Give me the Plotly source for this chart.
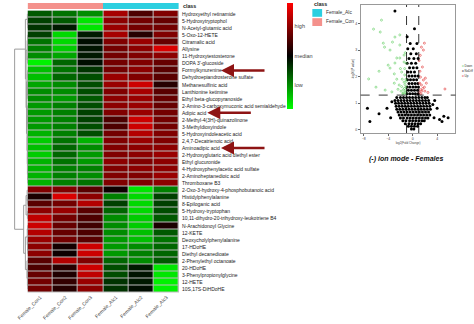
import plotly.graph_objects as go

W, H = 474, 324

# ---------------- data ----------------
samples = ["Female_Con1", "Female_Con2", "Female_Con3",
           "Female_Alc1", "Female_Alc2", "Female_Alc3"]
class_codes = [0, 0, 0, 1, 1, 1]
class_names = ["Female_Alc", "Female_Con"]

metabolites = [
    "Hydroxyethyl retinamide", "5-Hydroxytryptophol", "N-Acetyl-glutamic acid",
    "5-Oxo-12-HETE", "Citramalic acid", "Allysine", "11-Hydroxytestosterone",
    "DOPA 3'-glucoside", "Formylkynurenine", "Dehydroepiandrosterone sulfate",
    "Methanesulfinic acid", "Lanthionine ketimine", "Ethyl beta-glucopyranoside",
    "2-Amino-3-carboxymuconic acid semialdehyde", "Adipic acid",
    "2-Methyl-4(3H)-quinazolinone", "3-Methyldioxyindole",
    "5-Hydroxyindoleacetic acid", "2,4,7-Decatrienoic acid", "Aminoadipic acid",
    "2-Hydroxyglutaric acid diethyl ester", "Ethyl glucuronide",
    "4-Hydroxyphenylacetic acid sulfate", "2-Aminoheptanedioic acid",
    "Thromboxane B3", "2-Oxo-3-hydroxy-4-phosphobutanoic acid",
    "Histidylphenylalanine", "8-Epiloganic acid", "5-Hydroxy-tryptophan",
    "10,11-dihydro-20-trihydroxy-leukotriene B4", "N-Arachidonoyl Glycine",
    "12-KETE", "Deoxycholylphenylalanine", "17-HDoHE", "Diethyl decanedioate",
    "2-Phenylethyl octanoate", "20-HDoHE", "3-Phenylpropionylglycine",
    "12-HETE", "10S,17S-DiHDoHE",
]

z_scaled = [
    [-0.35, -0.45, -0.55, 0.65, 0.30, 0.50],
    [-0.25, -0.35, -0.90, 0.55, 0.45, 0.40],
    [-0.20, -0.10, -0.90, 0.60, 0.45, 0.45],
    [-0.25, -0.85, -0.10, 0.65, 0.15, 0.50],
    [-0.45, -0.85, -0.05, 0.50, 0.60, 0.40],
    [-0.50, -0.80, -0.08, 0.45, 0.55, 0.85],
    [-0.55, -0.65, -0.10, 0.45, 0.50, 0.55],
    [-0.95, -0.40, -0.05, 0.45, 0.50, 0.40],
    [-0.75, -0.45, -0.20, 0.45, 0.55, 0.35],
    [-0.75, -0.40, -0.30, 0.60, 0.50, 0.35],
    [-0.65, -0.55, -0.30, 0.60, 0.80, 0.15],
    [-0.55, -0.55, -0.30, 0.50, 0.65, 0.35],
    [-0.55, -0.60, -0.35, 0.55, 0.60, 0.40],
    [-0.60, -0.50, -0.30, 0.55, 0.60, 0.40],
    [-0.60, -0.50, -0.25, 0.50, 0.60, 0.45],
    [-0.60, -0.50, -0.25, 0.30, 0.80, 0.45],
    [-0.60, -0.50, -0.30, 0.30, 0.80, 0.45],
    [-0.70, -0.50, -0.30, 0.45, 0.70, 0.50],
    [-0.80, -0.45, -0.70, 0.50, 0.60, 0.50],
    [-0.75, -0.40, -0.55, 0.50, 0.55, 0.55],
    [-0.80, -0.40, -0.60, 0.50, 0.55, 0.60],
    [-0.70, -0.45, -0.60, 0.55, 0.50, 0.55],
    [-0.70, -0.50, -0.50, 0.50, 0.55, 0.55],
    [-0.70, -0.50, -0.55, 0.50, 0.50, 0.60],
    [-0.70, -0.50, -0.45, 0.50, 0.50, 0.55],
    [0.50, 0.50, 0.35, 0.05, -0.90, -0.50],
    [0.10, 0.85, 0.55, -0.50, -0.85, -0.25],
    [0.35, 0.45, 0.70, -0.25, -0.85, -0.25],
    [0.55, 0.60, 0.35, -0.40, -0.85, -0.30],
    [0.75, 0.45, 0.30, -0.55, -0.80, -0.35],
    [0.80, 0.40, 0.25, -0.55, -0.80, 0.10],
    [0.70, 0.40, 0.30, -0.55, -0.75, -0.35],
    [0.60, 0.45, 0.35, -0.60, -0.75, -0.45],
    [0.55, 0.08, 0.80, -0.60, -0.55, -0.40],
    [0.55, 0.05, 0.80, -0.60, -0.50, -0.40],
    [0.35, 0.70, 0.50, -0.40, -0.55, -0.35],
    [0.30, 0.15, 0.80, -0.30, -0.10, -0.90],
    [0.40, 0.12, 0.75, -0.30, -0.08, -0.90],
    [0.45, 0.20, 0.60, -0.20, -0.10, -0.95],
    [0.45, 0.15, 0.55, -0.20, -0.05, -0.95],
]

highlighted = ["Formylkynurenine", "Adipic acid", "Aminoadipic acid"]
colorbar_labels = ["high", "median", "low"]
colorbar_levels = [0.57, 0.0, -0.55]

# row dendrogram: [height, left, right]; leaves are row indices
dendro_tree = [1.0,
    [0.20,
        [0.05, 0, [0.03, 1, 2]],
        [0.15,
            [0.07, [0.04, 3, [0.02, 4, 5]], [0.03, 6, 7]],
            [0.12,
                [0.06, [0.03, 8, 9], [0.04, 10, [0.02, 11, 12]]],
                [0.08,
                    [0.05, [0.03, 13, 14], [0.02, 15, 16]],
                    [0.06, [0.04, 17, 18],
                        [0.05, [0.03, 19, [0.02, 20, 21]],
                               [0.03, 22, [0.02, 23, 24]]]]]]]],
    [0.33,
        [0.15, [0.07, 25, [0.04, 26, 27]], [0.05, 28, 29]],
        [0.20,
            [0.06, [0.03, 30, 31], [0.04, 32, [0.02, 33, 34]]],
            [0.08, 35, [0.05, [0.02, 36, 37], [0.03, 38, 39]]]]]]

# volcano plot (log2 fold change, -log10 p)
down_fc = [-7.2, -6.4, -5.3, -5.1, -4.8, -4.6, -3.7, -2.9, -2.1, -2.1, -4.0, -3.7,
           -2.9, -2.6, -2.1, -1.4, -1.8, -1.3, -3.0, -2.2, -1.4, -1.1, -4.5, -3.4,
           -1.2, -1.5, -1.1, -1.3, -1.6, -1.9, -1.05, -1.2, -2.6, -5.5, -6.0, -1.35,
           -1.1, -1.7, -2.0, -3.0, -3.3, -1.25, -1.55, -1.15, -1.8, -2.4, -1.05, -1.4]
down_p = [1.91, 3.79, 3.68, 4.13, 3.26, 3.11, 3.0, 3.49, 3.57, 3.19, 2.43, 2.32,
          2.51, 2.7, 2.7, 2.81, 2.17, 2.06, 1.75, 1.68, 1.79, 1.6, 1.49, 1.42,
          1.4, 1.5, 1.9, 2.3, 1.35, 1.45, 2.5, 2.9, 1.9, 2.2, 1.6, 1.55,
          1.35, 1.9, 2.3, 2.1, 3.3, 1.7, 1.38, 1.45, 1.62, 1.52, 1.82, 2.55]
up_fc = [1.44, 1.76, 1.92, 1.6, 1.28, 1.76, 2.08, 1.44, 1.92, 2.24, 5.28, 1.1,
         1.3, 1.2, 1.5, 1.15, 2.5, 1.05, 1.35, 1.65, 2.0, 1.25]
up_p = [3.11, 3.0, 3.26, 2.36, 1.98, 1.87, 1.94, 1.68, 1.6, 1.75, 1.53, 1.4,
        1.5, 2.2, 1.45, 1.75, 1.4, 2.6, 1.35, 1.55, 1.45, 2.8]
nodiff_rows = [
    (0.02, [-0.2, 0.2]),
    (0.12, [-0.7, -0.2, 0.3, 0.8]),
    (0.22, [-1.2, -0.6, -0.1, 0.4, 0.9, 1.3]),
    (0.33, [-1.6, -1.1, -0.5, 0.0, 0.5, 1.0, 1.5, 1.9]),
    (0.44, [-2.0, -1.5, -0.9, -0.4, 0.1, 0.6, 1.1, 1.6, 2.1, 2.5]),
    (0.55, [-2.2, -1.7, -1.2, -0.7, -0.2, 0.3, 0.8, 1.3, 1.8, 2.3, 2.8]),
    (0.66, [-2.4, -1.9, -1.4, -0.9, -0.4, 0.1, 0.6, 1.1, 1.6, 2.1, 2.6]),
    (0.77, [-2.6, -2.1, -1.6, -1.1, -0.6, -0.1, 0.4, 0.9, 1.4, 1.9, 2.4, 2.9]),
    (0.88, [-2.7, -2.2, -1.7, -1.2, -0.7, -0.2, 0.3, 0.8, 1.3, 1.8, 2.3, 2.8]),
    (0.99, [-2.8, -2.3, -1.8, -1.3, -0.8, -0.3, 0.2, 0.7, 1.2, 1.7, 2.2, 2.7]),
    (1.10, [-2.9, -2.4, -1.9, -1.4, -0.9, -0.4, 0.1, 0.6, 1.1, 1.6, 2.1, 2.6]),
    (1.21, [-2.6, -2.0, -1.5, -1.0, -0.5, 0.0, 0.5, 1.0, 1.5, 2.0, 2.4]),
    (1.35, [-0.9, -0.45, 0.0, 0.45, 0.9]),
    (1.48, [-0.7, -0.2, 0.3, 0.8]),
    (1.61, [-0.9, -0.45, 0.05, 0.5, 0.95]),
    (1.74, [-0.6, -0.1, 0.4, 0.85]),
    (1.88, [-0.85, -0.35, 0.15, 0.65]),
    (2.02, [-0.6, -0.1, 0.4, 0.9]),
    (2.17, [-0.8, -0.3, 0.3]),
    (2.33, [-0.5, 0.1, 0.7]),
    (2.50, [-0.9, -0.2, 0.5]),
    (2.68, [-0.6, 0.2, 0.9]),
    (2.86, [-0.3, 0.6]),
    (3.05, [-0.8, 0.1]),
    (3.25, [-0.4, 0.7]),
    (3.50, [-0.9]),
    (3.80, [0.3]),
    (4.47, [-2.9]),
    (0.80, [-7.4, -4.2, 4.0]),
    (0.45, [-3.6, 3.5, 5.8]),
    (0.30, [-7.0, 4.8]),
    (0.38, [4.4]),
    (0.50, [5.1]),
    (0.95, [3.3]),
    (1.05, [-3.4]),
    (1.10, [3.6]),
    (0.60, [-5.5]),
]
p_cut = 1.3
fc_cut = 1.0

# ---------------- helpers ----------------
def fx(p):
    return p / W

def fy(p):
    return 1 - p / H

def walk(node, xs, ys):
    if isinstance(node, int):
        return float(node), 0.0
    h, left, right = node
    pl, hl = walk(left, xs, ys)
    pr, hr = walk(right, xs, ys)
    xs += [hl, h, h, hr, None]
    ys += [pl, pl, pr, pr, None]
    return (pl + pr) / 2, h

dx, dy = [], []
walk(dendro_tree, dx, dy)
nodiff_fc = [x for y, xs in nodiff_rows for x in xs]
nodiff_p = [y for y, xs in nodiff_rows for x in xs]

FONT = "Liberation Sans, Arial, sans-serif"
rows = list(range(len(metabolites)))
cols = list(range(len(samples)))

fig = go.Figure()

fig.add_trace(go.Heatmap(
    z=z_scaled, x=cols, y=rows, xaxis="x", yaxis="y",
    colorscale=[[0, "#00FF00"], [0.5, "#000000"], [1, "#FF0000"]],
    zmin=-1, zmax=1, xgap=1, ygap=1, hoverinfo="skip",
    colorbar=dict(x=fx(282.5), xanchor="left", xpad=0, ypad=0,
                  y=fy(56), yanchor="middle", len=106, lenmode="pixels",
                  thickness=6, thicknessmode="pixels", outlinewidth=0,
                  tickmode="array", tickvals=colorbar_levels,
                  ticktext=colorbar_labels, ticks="",
                  tickfont=dict(size=5.5, color="#444", family=FONT)),
))

fig.add_trace(go.Heatmap(
    z=[class_codes], x=cols, y=[0], xaxis="x", yaxis="y2",
    colorscale=[[0, "#F4918C"], [0.5, "#F4918C"], [0.5, "#2CCFE0"], [1, "#2CCFE0"]],
    zmin=0, zmax=1, showscale=False, hoverinfo="skip",
))

fig.add_trace(go.Scatter(
    x=dx, y=dy, xaxis="x2", yaxis="y", mode="lines",
    line=dict(color="#9C9C9C", width=1), hoverinfo="skip", showlegend=False,
))

fig.add_trace(go.Scatter(
    x=nodiff_fc, y=nodiff_p, xaxis="x3", yaxis="y3", mode="markers",
    marker=dict(color="black", size=3.0, line=dict(width=0)),
    hoverinfo="skip", showlegend=False,
))
fig.add_trace(go.Scatter(
    x=down_fc, y=down_p, xaxis="x3", yaxis="y3", mode="markers",
    marker=dict(color="#5CCB5C", size=2.0, symbol="circle-open", line=dict(width=0.6)),
    hoverinfo="skip", showlegend=False,
))
fig.add_trace(go.Scatter(
    x=up_fc, y=up_p, xaxis="x3", yaxis="y3", mode="markers",
    marker=dict(color="#E03030", size=2.0, symbol="circle-open", line=dict(width=0.6)),
    hoverinfo="skip", showlegend=False,
))

shapes = [
    dict(type="rect", xref="paper", yref="paper", layer="below",
         x0=fx(17), x1=fx(172), y0=fy(292.6), y1=fy(10.4),
         fillcolor="#BDBDBD", line=dict(width=0)),
    dict(type="rect", xref="paper", yref="paper",
         x0=fx(308.5), x1=fx(318.5), y0=fy(16.8), y1=fy(9),
         fillcolor="#2CCFE0", line=dict(width=0)),
    dict(type="rect", xref="paper", yref="paper",
         x0=fx(308.5), x1=fx(318.5), y0=fy(26), y1=fy(18.2),
         fillcolor="#F4918C", line=dict(width=0)),
    dict(type="line", xref="x3", yref="y3 domain", x0=-fc_cut, x1=-fc_cut, y0=0, y1=1,
         line=dict(color="black", width=0.8, dash="dash")),
    dict(type="line", xref="x3", yref="y3 domain", x0=fc_cut, x1=fc_cut, y0=0, y1=1,
         line=dict(color="black", width=0.8, dash="dash")),
    dict(type="line", xref="x3 domain", yref="y3", x0=0, x1=1, y0=p_cut, y1=p_cut,
         line=dict(color="black", width=0.8, dash="dash")),
]

ann = [
    dict(text="<b>class</b>", x=fx(174), y=fy(6), xref="paper", yref="paper",
         xanchor="left", yanchor="middle", showarrow=False,
         font=dict(size=5.3, color="#222", family=FONT)),
    dict(text="<b>class</b>", x=fx(308.5), y=fy(4.5), xref="paper", yref="paper",
         xanchor="left", yanchor="middle", showarrow=False,
         font=dict(size=5.3, color="#222", family=FONT)),
    dict(text=class_names[0], x=fx(320.5), y=fy(12.8), xref="paper", yref="paper",
         xanchor="left", yanchor="middle", showarrow=False,
         font=dict(size=4.9, color="#333", family=FONT)),
    dict(text=class_names[1], x=fx(320.5), y=fy(22), xref="paper", yref="paper",
         xanchor="left", yanchor="middle", showarrow=False,
         font=dict(size=4.9, color="#333", family=FONT)),
    dict(text="<b><i>(-) ion mode - Females</i></b>", x=fx(404), y=fy(159),
         xref="paper", yref="paper", xanchor="center", yanchor="middle",
         showarrow=False,
         font=dict(size=7, color="#111", family="Liberation Sans Narrow, Liberation Sans")),
]
# row labels to the right of the heatmap
for i, name in enumerate(metabolites):
    ann.append(dict(text=name, x=fx(173.5), y=i, xref="paper", yref="y",
                    xanchor="left", yanchor="middle", showarrow=False,
                    font=dict(size=5.0, color="#222", family=FONT)))
for i, (lab, col) in enumerate([("Down", "#5CCB5C"), ("NoDiff", "#000000"), ("Up", "#E03030")]):
    ann.append(dict(text=f'<span style="color:{col}">o</span> {lab}',
                    x=fx(460), y=fy(66 + 5 * i), xref="paper", yref="paper",
                    xanchor="left", yanchor="middle", showarrow=False,
                    font=dict(size=3, color="#333", family=FONT)))

arrow_tip = {"Formylkynurenine": 215, "Adipic acid": 201, "Aminoadipic acid": 215}
for name in highlighted:
    ann.append(dict(x=fx(arrow_tip[name]), y=metabolites.index(name),
                    xref="paper", yref="y", text="", showarrow=True,
                    ax=45, ay=0, axref="pixel", ayref="pixel",
                    arrowhead=2, arrowsize=1.0, arrowwidth=2.6,
                    arrowcolor="#8E1414", standoff=0))

fig.update_layout(
    width=W, height=H, autosize=False,
    margin=dict(l=0, r=0, t=0, b=0),
    paper_bgcolor="white", plot_bgcolor="rgba(0,0,0,0)",
    showlegend=False,
    font=dict(family=FONT),
    shapes=shapes, annotations=ann,
    xaxis=dict(domain=[fx(17), fx(172)], range=[-0.5, 5.5], anchor="y",
               tickmode="array", tickvals=cols, ticktext=samples, tickangle=-45,
               ticks="", tickfont=dict(size=5, color="#444"),
               showgrid=False, zeroline=False, showline=False),
    yaxis=dict(domain=[fy(292.5), fy(10.5)], range=[39.5, -0.5], anchor="x",
               showticklabels=False, ticks="",
               showgrid=False, zeroline=False, showline=False),
    xaxis2=dict(domain=[0, fx(17.5)], range=[1.27, 0], anchor="y", visible=False),
    yaxis2=dict(domain=[fy(9), fy(3)], range=[-0.5, 0.5], anchor="x", visible=False),
    xaxis3=dict(domain=[fx(358), fx(455)], range=[-8.5, 7], anchor="y3",
                tickmode="array", tickvals=[-8, -4, 0, 4], ticks="outside",
                ticklen=2, tickwidth=0.5, tickcolor="#666",
                tickfont=dict(size=3.5, color="#444"),
                title=dict(text="log2(Fold Change)", font=dict(size=3, color="#444"), standoff=1),
                showline=True, mirror=True, linecolor="#999", linewidth=0.6,
                showgrid=False, zeroline=False),
    yaxis3=dict(domain=[fy(133), fy(5)], range=[-0.13, 4.7], anchor="x3",
                tickmode="array", tickvals=[0, 1, 2, 3, 4], ticks="outside",
                ticklen=2, tickwidth=0.5, tickcolor="#666",
                tickfont=dict(size=3.5, color="#444"),
                title=dict(text="-log10(P value)", font=dict(size=3, color="#444"), standoff=1),
                showline=True, mirror=True, linecolor="#999", linewidth=0.6,
                showgrid=False, zeroline=False),
)

fig.write_html("out.html")
